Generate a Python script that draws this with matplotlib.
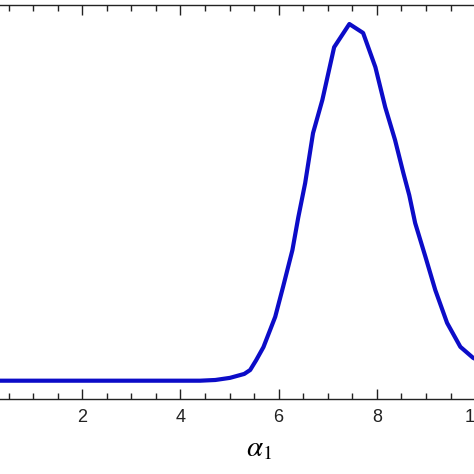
import matplotlib
matplotlib.use("Agg")
import matplotlib.pyplot as plt
from matplotlib.ticker import MultipleLocator

plt.rcParams['mathtext.fontset'] = 'stix'

# curve (alpha_1 vs. normalized density)
alpha1 = [0.0, 4.40, 4.71, 5.01, 5.30, 5.42, 5.54, 5.69, 5.93, 6.09, 6.28, 6.40,
          6.54, 6.70, 6.89, 7.13, 7.44, 7.72, 7.97, 8.17, 8.37, 8.54, 8.66,
          8.78, 8.99, 9.19, 9.43, 9.70, 9.96, 10.31]
density = [0.0, 0.0, 0.002, 0.008, 0.019, 0.030, 0.057, 0.094, 0.179, 0.263, 0.366, 0.458,
           0.554, 0.694, 0.787, 0.935, 1.0, 0.975, 0.879, 0.767, 0.675, 0.582, 0.520,
           0.442, 0.347, 0.254, 0.162, 0.095, 0.064, 0.041]
xticks = [2, 4, 6, 8, 10]

fig = plt.figure(figsize=(4.74, 4.74), dpi=100)
W = 474.0
ax = fig.add_axes([-16 / W, 75 / W, 550 / W, 394 / W])
ax.plot(alpha1, density, color='#0c0cc8', lw=3.0, solid_joinstyle='round')
ax.set_xlim(0, 11.2)
ax.set_ylim(-0.0513, 1.0533)
ax.set_xticks(xticks)
ax.set_xticklabels([str(t) for t in xticks], fontfamily='Liberation Sans', fontsize=13, color='#222222')
ax.xaxis.set_minor_locator(MultipleLocator(0.5))
ax.set_yticks([])
ax.tick_params(axis='x', which='major', direction='in', length=7, width=1, top=True, pad=7, color='#222222')
ax.tick_params(axis='x', which='minor', direction='in', length=4, width=1, top=True, color='#222222')
for s in ax.spines.values():
    s.set_color('#222222')
    s.set_linewidth(1.0)
ax.set_xlabel(r'$\alpha_1$', fontsize=21, labelpad=6)

fig.savefig('out.png', dpi=100)
